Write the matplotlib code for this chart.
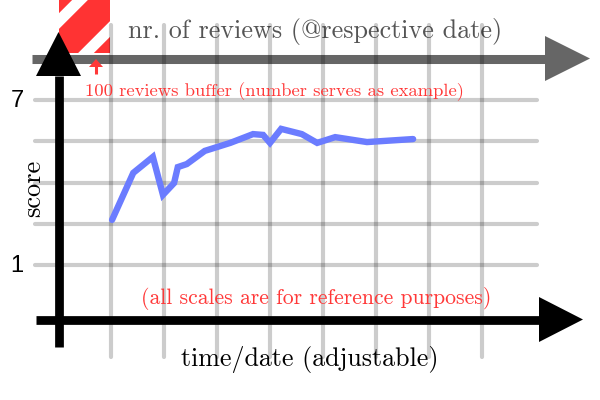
import matplotlib
matplotlib.use('Agg')
import matplotlib.pyplot as plt
from matplotlib.patches import Polygon, Rectangle

# score line (x in grid steps of time, y in score units)
time_steps = [0.02, 0.42, 0.79, 0.98, 1.19, 1.26, 1.43, 1.77, 2.25, 2.68,
              2.87, 3.0, 3.21, 3.6, 3.89, 4.23, 4.83, 5.70]
scores = [2.64, 4.35, 4.93, 3.55, 3.98, 4.56, 4.67, 5.15, 5.44, 5.76,
          5.73, 5.44, 5.95, 5.76, 5.44, 5.65, 5.47, 5.58]

score_grid = [1, 2.5, 4, 5.5, 7]
score_ticks = [1, 7]
time_grid = [0, 1, 2, 3, 4, 5, 6, 7]

SERIF = ['cmr10', 'DejaVu Serif']
RED = '#ff3838'
GREY = '#666666'

fig = plt.figure(figsize=(6, 4), dpi=100)
ax = fig.add_axes([0, 0, 1, 1])
ax.axis('off')
# one time step = 53 px, one score point = 27.5 px
ax.set_xlim(-111 / 53, 489 / 53)
ax.set_ylim(1 - 135 / 27.5, 1 + 265 / 27.5)


def px(x, y):
    # pixel position -> axes fraction
    return (x / 600, 1 - y / 400)


def arrow(x0, y0, x1, y1, head, color, lw, z):
    ax.plot(*zip(px(x0, y0), px(x1, y1)), transform=ax.transAxes, color=color,
            lw=lw, solid_capstyle='butt', zorder=z)
    ax.add_patch(Polygon([px(*p) for p in head], closed=True, transform=ax.transAxes,
                         facecolor=color, edgecolor='none', zorder=z))


# striped buffer block
block = Rectangle(px(59, 53), 51 / 600, 53 / 400, transform=ax.transAxes,
                  facecolor='#ff3333', edgecolor='none', zorder=1)
ax.add_patch(block)
for c in [80, 139]:
    ln, = ax.plot(*zip(px(c - 80, 80), px(c + 20, -20)), transform=ax.transAxes,
                  color='white', lw=8, zorder=1.1)
    ln.set_clip_path(block)

# grey top arrow (review count axis)
arrow(32, 58.5, 546, 58.5, [(545, 36), (545, 81), (590, 58.5)], GREY, 6.5, 2)

# grid
ax.hlines(score_grid, (35 - 111) / 53, (537 - 111) / 53, color='black', alpha=0.2,
          lw=3, capstyle='round', zorder=3)
ax.vlines(time_grid, 1 - 92 / 27.5, 1 + 240 / 27.5, color='black', alpha=0.2,
          lw=3, capstyle='round', zorder=3)

# score line
ax.plot(time_steps, scores, color='#6b7cff', lw=4.6, solid_capstyle='round',
        solid_joinstyle='miter', zorder=4)

# black axes
arrow(58.5, 347, 58.5, 76, [(36, 76), (81, 76), (58.5, 32)], 'black', 6.3, 5)
arrow(36, 319.5, 540, 319.5, [(539, 297), (539, 342), (583, 319.5)], 'black', 6.3, 5)

# small red buffer arrow
arrow(96, 74, 96, 66, [(89, 67), (103, 67), (96, 59)], RED, 2.2, 5)

for s in score_ticks:
    ax.text(17 / 600, (265 - (s - 1) * 27.5 + 1) / 400 * -1 + 1, str(s),
            transform=ax.transAxes, ha='center', va='center',
            fontsize=17, family='Liberation Sans', color='black')

ax.text(*px(128, 38), 'nr. of reviews (@respective date)', transform=ax.transAxes,
        ha='left', va='baseline', fontsize=18.8, family=SERIF, color='#555555', zorder=2.5)
ax.text(*px(85, 96), '100 reviews buffer (number serves as example)',
        transform=ax.transAxes, ha='left', va='baseline', fontsize=13.4,
        family=SERIF, color=RED, zorder=6)
ax.text(*px(316, 298), '(all scales are for reference purposes)', transform=ax.transAxes,
        ha='center', va='center', fontsize=15.6, family=SERIF, color=RED, zorder=6)
ax.text(*px(310, 366), 'time/date (adjustable)', transform=ax.transAxes,
        ha='center', va='baseline', fontsize=18.7, family=SERIF, color='black', zorder=6)
ax.text(*px(33, 188), 'score', transform=ax.transAxes, rotation=90,
        ha='center', va='center', fontsize=19, family=SERIF, color='black', zorder=6)

fig.savefig('out.png', dpi=100)
